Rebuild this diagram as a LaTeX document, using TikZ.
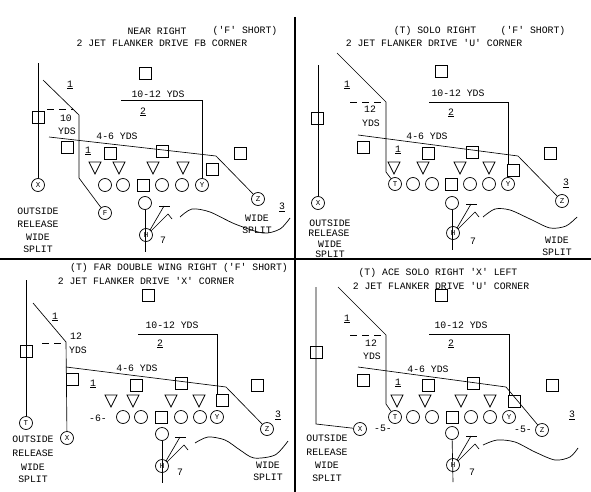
\documentclass[tikz,border=0pt]{standalone}
\usepackage{fontspec}
\newfontfamily\tw{Liberation Mono}
\usetikzlibrary{calc}
\tikzset{
  lb/.style={font=\tw\fontsize{9.8}{10}\selectfont, inner sep=0pt},
  pl/.style={circle, draw, line width=0.7pt, minimum size=13pt, inner sep=0pt, font=\tw\fontsize{7.5}{7.5}\selectfont},
  sq/.style={rectangle, draw, line width=0.7pt, minimum size=12pt, inner sep=0pt},
  rt/.style={line width=0.65pt},
  dsh/.style={line width=0.8pt, dash pattern=on 7pt off 5pt},
  curv/.style={line width=0.7pt},
  divl/.style={line width=1.2pt}
}
\newcommand\ptri[2]{\draw[line width=0.7pt] (#1-6,#2-6) -- (#1+6,#2-6) -- (#1,#2+6) -- cycle;}
\newcommand\blk[1]{%
  \draw[rt] ($(#1)+(4,-5)$) -- ($(#1)+(18,-29)$);
  \draw[rt] ($(#1)+(13,-29)$) -- ($(#1)+(24,-29)$);
  \draw[rt] ($(#1)+(5,-4)$) -- ($(#1)+(22,-21)$) -- ($(#1)+(26,-16)$);
}
\begin{document}
\begin{tikzpicture}[x=1pt,y=-1pt]
\useasboundingbox (0,0) rectangle (591,492);
% dividers
\draw[divl] (295,17) -- (295,492);
\draw[divl] (0,259) -- (591,259);

%================ Q1 ================
\node[lb] (t1a) at (157,31) {NEAR RIGHT};
\node[lb] (t1b) at (245,31) {('F' SHORT)};
\node[lb] (t1c) at (162,43) {2 JET FLANKER DRIVE FB CORNER};
\node[pl] (X1) at (38,185) {X};
\node[pl] (F1) at (105,213) {F};
\node[pl] (Y1) at (202,185) {Y};
\node[pl] (Z1) at (258,199) {Z};
\node[pl] (QB1) at (145,203) {};
\node[pl] (H1) at (146,235) {H};
\foreach \x [count=\i] in {105,123,162,182} \node[pl] (q1c\i) at (\x,185) {};
\node[sq] (C1) at (143,185) {};
\foreach \x in {95,119,153,183} {\ptri{\x}{168}}
\node[sq] (s1a) at (38,117) {};
\node[sq] (s1b) at (67,147) {};
\node[sq] (s1c) at (110,153) {};
\node[sq] (s1d) at (162,151) {};
\node[sq] (s1e) at (240,153) {};
\node[sq] (s1f) at (145,73) {};
\node[sq] (s1g) at (212,169) {};
\coordinate (x1top) at (38,63);
\draw[rt] (X1) -- (x1top);
\coordinate (a1) at (43,80); \coordinate (b1) at (79,115); \coordinate (c1) at (79,178);
\draw[rt] (a1) -- (b1) -- (c1) -- (F1);
\coordinate (d1a) at (47,109); \coordinate (d1b) at (73,109);
\draw[dsh] (d1a) -- (d1b);
\coordinate (l1a) at (49,137); \coordinate (l1b) at (216,156);
\draw[rt] (l1a) -- (l1b) -- (Z1);
\coordinate (m1a) at (121,100); \coordinate (m1b) at (202,100);
\draw[rt] (m1a) -- (m1b) -- (Y1);
\coordinate (hb1) at (145,252);
\draw[rt] (QB1) -- (hb1);
\blk{H1}
\draw[curv] plot[smooth] coordinates {(180,217) (192,209) (210,212) (235,224) (263,233) (280,229) (290,218)};
\node[lb] at (158,94) {10-12 YDS};
\node[lb] at (143,112) {\underline{2}};
\node[lb] at (70,85) {\underline{1}};
\node[lb] at (66,118) {10};
\node[lb] at (67,131) {YDS};
\node[lb] at (117,136) {4-6 YDS};
\node[lb] at (88,151) {\underline{1}};
\node[lb] at (163,240) {7};
\node[lb] at (282,207) {\underline{3}};
\node[lb] at (257,218) {WIDE};
\node[lb] at (257,230) {SPLIT};
\node[lb] at (38,211) {OUTSIDE};
\node[lb] at (38,224) {RELEASE};
\node[lb] at (38,237) {WIDE};
\node[lb] at (38,249) {SPLIT};

%================ Q2 ================
\node[lb] at (435,31) {(T) SOLO RIGHT};
\node[lb] at (533,31) {('F' SHORT)};
\node[lb] at (434,43) {2 JET FLANKER DRIVE 'U' CORNER};
\node[pl] (X2) at (318,203) {X};
\node[pl] (T2) at (395,184) {T};
\node[pl] (Y2) at (508,184) {Y};
\node[pl] (Z2) at (562,201) {Z};
\node[pl] (QB2) at (452,203) {};
\node[pl] (H2) at (453,233) {H};
\foreach \x [count=\i] in {413,432,470,489} \node[pl] (q2c\i) at (\x,184) {};
\node[sq] (C2) at (451,184) {};
\foreach \x in {394,423,460,489} {\ptri{\x}{168}}
\node[sq] (s2a) at (317,118) {};
\node[sq] (s2b) at (363,147) {};
\node[sq] (s2c) at (428,153) {};
\node[sq] (s2d) at (472,152) {};
\node[sq] (s2e) at (550,153) {};
\node[sq] (s2f) at (441,71) {};
\node[sq] (s2g) at (513,170) {};
\coordinate (x2top) at (318,65);
\draw[rt] (X2) -- (x2top);
\coordinate (a2) at (337,53); \coordinate (b2) at (386,102); \coordinate (c2) at (386,172);
\draw[rt] (a2) -- (b2) -- (c2) -- (T2);
\coordinate (d2a) at (350,102); \coordinate (d2b) at (384,102);
\draw[dsh] (d2a) -- (d2b);
\coordinate (l2a) at (358,135); \coordinate (l2b) at (518,156);
\draw[rt] (l2a) -- (l2b) -- (Z2);
\coordinate (m2a) at (429,102); \coordinate (m2b) at (508,102); \coordinate (m2c) at (508,164);
\draw[rt] (m2a) -- (m2b) -- (m2c);
\coordinate (hb2) at (452,250);
\draw[rt] (QB2) -- (hb2);
\blk{H2}
\draw[curv] plot[smooth] coordinates {(483,217) (495,209) (510,210) (530,219) (550,228) (566,226) (577,217)};
\node[lb] at (458,93) {10-12 YDS};
\node[lb] at (451,113) {\underline{2}};
\node[lb] at (347,85) {\underline{1}};
\node[lb] at (370,109) {12};
\node[lb] at (371,123) {YDS};
\node[lb] at (427,136) {4-6 YDS};
\node[lb] at (398,150) {\underline{1}};
\node[lb] at (473,241) {7};
\node[lb] at (566,183) {\underline{3}};
\node[lb] at (557,240) {WIDE};
\node[lb] at (557,252) {SPLIT};
\node[lb] at (330,223) {OUTSIDE};
\node[lb] at (329,233.5) {RELEASE};
\node[lb] at (330,244) {WIDE};
\node[lb] at (330,254.5) {SPLIT};

%================ Q3 ================
\node[lb] at (179,268) {(T) FAR DOUBLE WING RIGHT ('F' SHORT)};
\node[lb] at (146,281) {2 JET FLANKER DRIVE 'X' CORNER};
\node[pl] (T3) at (26,423) {T};
\node[pl] (X3) at (67,438) {X};
\node[pl] (Y3) at (217,417) {Y};
\node[pl] (Z3) at (267,429) {Z};
\node[pl] (QB3) at (162,434) {};
\node[pl] (H3) at (162,466) {H};
\foreach \x [count=\i] in {123,141,181,200} \node[pl] (q3c\i) at (\x,417) {};
\node[sq] (C3) at (161,417) {};
\foreach \x in {111,133,171,199} {\ptri{\x}{401}}
\node[sq] (s3a) at (26,351) {};
\node[sq] (s3b) at (72,379) {};
\node[sq] (s3c) at (136,385) {};
\node[sq] (s3d) at (181,383) {};
\node[sq] (s3e) at (257,385) {};
\node[sq] (s3f) at (148,295) {};
\node[sq] (s3g) at (222,400) {};
\coordinate (t3top) at (26,280);
\draw[rt] (T3) -- (t3top);
\coordinate (a3) at (33,303); \coordinate (b3) at (66,342);
\draw[rt] (a3) -- (b3) -- (X3);
\coordinate (d3a) at (42,343); \coordinate (d3b) at (65,343);
\draw[dsh] (d3a) -- (d3b);
\coordinate (l3a) at (66,367); \coordinate (l3b) at (226,387);
\draw[rt] (l3a) -- (l3b) -- (Z3);
\coordinate (m3a) at (138,334); \coordinate (m3b) at (217,334); \coordinate (m3c) at (217,394);
\draw[rt] (m3a) -- (m3b) -- (m3c);
\coordinate (hb3) at (162,483);
\draw[rt] (QB3) -- (hb3);
\blk{H3}
\draw[curv] plot[smooth] coordinates {(195,443) (208,437) (225,440) (240,450) (254,458) (275,455) (288,441)};
\node[lb] at (172,325) {10-12 YDS};
\node[lb] at (160,344) {\underline{2}};
\node[lb] at (55,317) {\underline{1}};
\node[lb] at (76,336) {12};
\node[lb] at (78,350) {YDS};
\node[lb] at (137,368) {4-6 YDS};
\node[lb] at (93,384) {\underline{1}};
\node[lb] at (98,418) {-6-};
\node[lb] at (180,472) {7};
\node[lb] at (278,415) {\underline{3}};
\node[lb] at (268,465) {WIDE};
\node[lb] at (268,477) {SPLIT};
\node[lb] at (33,439) {OUTSIDE};
\node[lb] at (33,453) {RELEASE};
\node[lb] at (33,467) {WIDE};
\node[lb] at (33,479) {SPLIT};

%================ Q4 ================
\node[lb] at (438,273) {(T) ACE SOLO RIGHT 'X' LEFT};
\node[lb] at (441,286) {2 JET FLANKER DRIVE 'U' CORNER};
\node[pl] (X4) at (360,429) {X};
\node[pl] (T4) at (395,417) {T};
\node[pl] (Y4) at (509,417) {Y};
\node[pl] (Z4) at (542,430) {Z};
\node[pl] (QB4) at (452,433) {};
\node[pl] (H4) at (453,465) {H};
\foreach \x [count=\i] in {413,432,471,490} \node[pl] (q4c\i) at (\x,417) {};
\node[sq] (C4) at (452,417) {};
\foreach \x in {397,425,461,490} {\ptri{\x}{401}}
\node[sq] (s4a) at (316,352) {};
\node[sq] (s4b) at (363,380) {};
\node[sq] (s4c) at (428,385) {};
\node[sq] (s4d) at (473,383) {};
\node[sq] (s4e) at (552,385) {};
\node[sq] (s4f) at (441,295) {};
\node[sq] (s4g) at (514,401) {};
\coordinate (x4top) at (316,287); \coordinate (x4c) at (316,424);
\draw[rt] (x4top) -- (x4c) -- (X4);
\coordinate (a4) at (338,287); \coordinate (b4) at (386,335); \coordinate (c4) at (386,404);
\draw[rt] (a4) -- (b4) -- (c4) -- (T4);
\coordinate (d4a) at (350,335); \coordinate (d4b) at (384,335);
\draw[dsh] (d4a) -- (d4b);
\coordinate (l4a) at (358,367); \coordinate (l4b) at (506,387);
\draw[rt] (l4a) -- (l4b) -- (Z4);
\coordinate (m4a) at (429,334); \coordinate (m4b) at (509,334); \coordinate (m4c) at (509,395);
\draw[rt] (m4a) -- (m4b) -- (m4c);
\coordinate (hb4) at (453,482);
\draw[rt] (QB4) -- (hb4);
\blk{H4}
\draw[curv] plot[smooth] coordinates {(483,445) (497,440) (515,442) (535,452) (555,460) (570,457) (578,448)};
\node[lb] at (461,325) {10-12 YDS};
\node[lb] at (451,344) {\underline{2}};
\node[lb] at (347,319) {\underline{1}};
\node[lb] at (371,343) {12};
\node[lb] at (372,356) {YDS};
\node[lb] at (428,369) {4-6 YDS};
\node[lb] at (398,383) {\underline{1}};
\node[lb] at (383,428) {-5-};
\node[lb] at (523,429) {-5-};
\node[lb] at (472,472) {7};
\node[lb] at (572,415) {\underline{3}};
\node[lb] at (327,438) {OUTSIDE};
\node[lb] at (327,452) {RELEASE};
\node[lb] at (327,465) {WIDE};
\node[lb] at (327,478) {SPLIT};
\end{tikzpicture}
\end{document}
